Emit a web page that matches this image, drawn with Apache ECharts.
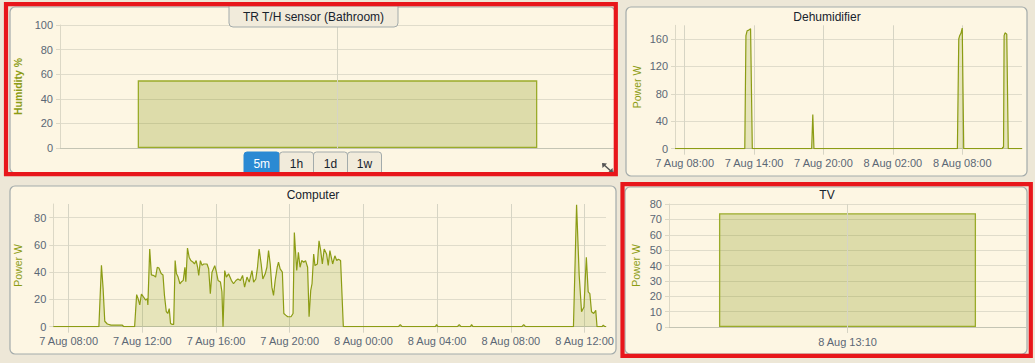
<!DOCTYPE html>
<html><head><meta charset="utf-8">
<script src="https://cdn.jsdelivr.net/npm/echarts@6/dist/echarts.min.js"></script>
<style>html,body{margin:0;padding:0;background:#ede7d7;}#c{width:1035px;height:363px;}</style>
</head><body><div id="c"></div>
<script>
// ---------- data ----------
const windowStart = 7 + 10 / 60;   // 7 Aug 07:10 (hours since 7 Aug 00:00)
const windowEnd = 37 + 10 / 60;    // 8 Aug 13:10
const dehumTickHours = [8, 14, 20, 26, 32];
const computerTickHours = [8, 12, 16, 20, 24, 28, 32, 36];

const humidityCategories = ['8 Aug 13:10'];
const humidityValues = [55];
const tvCategories = ['8 Aug 13:10'];
const tvValues = [74];

const dehumidifierPoints = [
  [7.17, 0], [13.2, 0], [13.3, 165], [13.4, 172], [13.55, 173], [13.7, 175], [13.85, 0],
  [18.98, 0], [19.08, 50], [19.18, 0],
  [31.58, 0], [31.7, 160], [31.78, 165], [31.88, 168], [32.0, 176], [32.13, 0],
  [35.45, 0], [35.5, 2], [35.57, 2], [35.62, 165], [35.7, 169], [35.85, 167], [35.98, 0],
  [37.17, 0]
];

const computerPoints = [
  [7.17, 0], [9.64, 0], [9.78, 45], [9.87, 28], [9.96, 4], [10.1, 2], [10.3, 1.2], [10.9, 1.2], [11.0, 0],
  [11.58, 0], [11.69, 23.5], [11.77, 20.6], [11.86, 16], [11.95, 24], [12.05, 22], [12.18, 19.5], [12.27, 20.6],
  [12.3, 16], [12.4, 57], [12.49, 38], [12.63, 37.5], [12.72, 36.4], [12.81, 43.6], [12.9, 43], [13.02, 39],
  [13.12, 38], [13.2, 23], [13.3, 11], [13.38, 9.7], [13.46, 13.3], [13.53, 2.4], [13.62, 1.7], [13.7, 1.7],
  [13.78, 48.5], [13.85, 39], [13.94, 36.4], [14.04, 31.5], [14.13, 33], [14.22, 34], [14.31, 43.6], [14.36, 33],
  [14.45, 57.7], [14.54, 51], [14.63, 48.5], [14.74, 47.5], [14.83, 46], [14.92, 48.5], [15.0, 43.6], [15.06, 37.6],
  [15.15, 48.5], [15.24, 45], [15.33, 46], [15.51, 46], [15.6, 42.5], [15.69, 24.2], [15.78, 40], [15.93, 44.8],
  [16.02, 40], [16.11, 33.9], [16.24, 32.7], [16.32, 25.5], [16.38, 0], [16.47, 41.2], [16.56, 36.4], [16.68, 38.8],
  [16.83, 34], [16.95, 31.5], [17.08, 33.9], [17.19, 35], [17.32, 33.9], [17.44, 37.6], [17.55, 29], [17.68, 36.4],
  [17.8, 32.7], [17.95, 41.2], [18.04, 32.7], [18.16, 35], [18.25, 43.6], [18.34, 57], [18.45, 46], [18.54, 35],
  [18.67, 38.8], [18.76, 43.6], [18.85, 55.8], [18.94, 46], [19.03, 29], [19.12, 23], [19.21, 33.9], [19.32, 43.6],
  [19.39, 47.3], [19.48, 42.4], [19.6, 40], [19.68, 9.7], [19.78, 8.5], [19.89, 7.3], [20.07, 7.3], [20.18, 9.7],
  [20.25, 69], [20.38, 41.2], [20.47, 54.5], [20.56, 43.6], [20.65, 48.5], [20.76, 47.3], [20.86, 48.5], [20.97, 43.6],
  [21.05, 7.3], [21.14, 26.7], [21.21, 31.5], [21.3, 53.3], [21.37, 44.8], [21.5, 46], [21.59, 63], [21.68, 55.8],
  [21.77, 46], [21.87, 57], [22.0, 53.3], [22.09, 45], [22.18, 55.8], [22.33, 46], [22.45, 52], [22.55, 48.5],
  [22.64, 49.5], [22.76, 48.5], [22.91, 0],
  [25.9, 0], [26.0, 1.5], [26.1, 0], [27.9, 0], [27.97, 1.5], [28.05, 0], [29.1, 0], [29.2, 1.5], [29.3, 0],
  [29.8, 0], [29.87, 1.5], [29.95, 0], [32.6, 0], [32.7, 1.5], [32.8, 0],
  [35.4, 0], [35.57, 89.5], [35.71, 38], [35.84, 11], [35.97, 14.5], [36.1, 51], [36.2, 25.5], [36.29, 24.3],
  [36.38, 11], [36.5, 9.7], [36.61, 12], [36.68, 0], [36.95, 0], [37.02, 1.2], [37.1, 0], [37.17, 0]
];

// ---------- styles ----------
const FONT = '"Liberation Sans", Arial, sans-serif';
const OLIVE = '#8c9c14';
const FILL = 'rgba(140,156,20,0.28)';
const HGRID = '#e0dccb';
const VGRID = '#d6d4c4';
const LABEL = '#5b6775';
const PANEL = '#fdf6e3';
const PANEL_STROKE = '#a3abab';
const RED = '#e8161b';

function timeLabel(v) {
  const d = 7 + Math.floor(v / 24);
  const h = Math.round(v % 24);
  return d + ' Aug ' + String(h).padStart(2, '0') + ':00';
}
function gridColors(max, interval) {
  const n = Math.floor(max / interval) + 1;
  const arr = new Array(n).fill(HGRID);
  if (max % interval) arr.push('rgba(0,0,0,0)');
  return arr;
}
function yAxis(gi, max, interval, name, gap, bold) {
  return {
    type: 'value', gridIndex: gi, min: 0, max: max, interval: interval,
    name: name, nameLocation: 'middle', nameGap: gap, nameRotate: 90,
    nameTextStyle: { color: OLIVE, fontSize: 10.5, fontWeight: bold ? 'bold' : 'normal', fontFamily: FONT },
    axisLine: { show: true, lineStyle: { color: '#dcd8c6' } },
    axisTick: { show: true, length: 4, lineStyle: { color: '#dcd8c6' } },
    axisLabel: { color: LABEL, fontSize: 11, fontFamily: FONT, margin: 7, showMaxLabel: !(max % interval) },
    splitLine: { show: true, lineStyle: { color: gridColors(max, interval) } }
  };
}
function timeAxis(gi, ticks) {
  return {
    type: 'value', gridIndex: gi, min: windowStart, max: windowEnd,
    axisLine: { show: true, onZero: false, lineStyle: { color: '#c4c4b4' } },
    axisTick: { show: true, length: 6, customValues: ticks, lineStyle: { color: VGRID } },
    axisLabel: { customValues: ticks, formatter: timeLabel, color: LABEL, fontSize: 11, fontFamily: FONT, margin: 9 },
    splitLine: { show: true, lineStyle: { color: VGRID } }
  };
}
function catAxis(gi, cats, showLabel) {
  return {
    type: 'category', gridIndex: gi, data: cats, boundaryGap: true,
    axisLine: { show: true, onZero: false, lineStyle: { color: '#c4c4b4' } },
    axisTick: { show: showLabel, alignWithLabel: true, length: 6, lineStyle: { color: VGRID } },
    axisLabel: { show: showLabel, color: LABEL, fontSize: 11, fontFamily: FONT, margin: 9 },
    splitLine: { show: false }
  };
}
function lineSeries(xi, pts) {
  return {
    type: 'line', xAxisIndex: xi, yAxisIndex: xi, data: pts, showSymbol: false, symbol: 'none',
    lineStyle: { color: OLIVE, width: 1.2 }, areaStyle: { color: FILL }, silent: true, z: 3
  };
}
function barSeries(xi, vals) {
  return {
    type: 'bar', xAxisIndex: xi, yAxisIndex: xi, data: vals, barWidth: '72%',
    itemStyle: { color: FILL, borderColor: '#9aab2a', borderWidth: 1.3 }, silent: true, z: 3,
    markLine: { silent: true, symbol: 'none', label: { show: false },
      lineStyle: { color: VGRID, type: 'solid', width: 1 }, data: [{ xAxis: 0 }] }
  };
}
function panel(x, y, w, h) {
  return { type: 'rect', z: -10, shape: { x: x, y: y, width: w, height: h, r: 5 },
    style: { fill: PANEL, stroke: PANEL_STROKE, lineWidth: 1.2 } };
}
function titleText(t, x, y) {
  return { type: 'text', z: 60, x: x, y: y,
    style: { text: t, fill: '#17222d', font: '12px ' + FONT, align: 'center', verticalAlign: 'middle' } };
}
function button(label, x, w, active) {
  return [
    { type: 'rect', z: 55, shape: { x: x, y: 152, width: w, height: 23, r: [3, 3, 0, 0] },
      style: { fill: active ? '#2b8ad3' : '#f1ebdb', stroke: active ? '#2b8ad3' : PANEL_STROKE, lineWidth: 1 } },
    { type: 'text', z: 56, x: x + w / 2, y: 163.5,
      style: { text: label, fill: active ? '#ffffff' : '#17222d', font: '12px ' + FONT, align: 'center', verticalAlign: 'middle' } }
  ];
}

const graphics = [
  panel(10, 7, 605, 166),
  panel(626, 7, 401, 169),
  panel(10, 186, 606, 168),
  panel(625, 187, 402, 167),
  { type: 'rect', z: 55, shape: { x: 229, y: 6, width: 169, height: 21, r: [0, 0, 4, 4] },
    style: { fill: '#f1ebdb', stroke: PANEL_STROKE, lineWidth: 1 } },
  titleText('TR T/H sensor (Bathroom)', 313.5, 17),
  titleText('Dehumidifier', 827, 17),
  titleText('Computer', 313, 195),
  titleText('TV', 827, 195),
  ...button('5m', 244, 35.5, true),
  ...button('1h', 279.5, 34, false),
  ...button('1d', 313.5, 34, false),
  ...button('1w', 347.5, 34, false),
  { type: 'line', z: 56, shape: { x1: 603, y1: 164, x2: 612, y2: 172 }, style: { stroke: '#555', lineWidth: 1.5 } },
  { type: 'polygon', z: 56, shape: { points: [[602, 163], [607, 163.5], [602.5, 168]] }, style: { fill: '#555' } },
  { type: 'polygon', z: 56, shape: { points: [[613, 173], [608, 172.5], [612.5, 168]] }, style: { fill: '#555' } },
  { type: 'rect', z: 70, shape: { x: 6, y: 4.2, width: 609.8, height: 170 }, style: { fill: 'none', stroke: RED, lineWidth: 4.2 } },
  { type: 'rect', z: 70, shape: { x: 622.5, y: 184.2, width: 408.3, height: 171.6 }, style: { fill: 'none', stroke: RED, lineWidth: 4.2 } }
];

const chart = echarts.init(document.getElementById('c'), null, { renderer: 'svg' });
chart.setOption({
  backgroundColor: '#ede7d7',
  animation: false,
  textStyle: { fontFamily: FONT },
  graphic: { elements: graphics },
  grid: [
    { left: 60, top: 25, width: 555, height: 123 },
    { left: 675, top: 25.3, width: 347, height: 123.4 },
    { left: 53.3, top: 204, width: 552.7, height: 122.7 },
    { left: 669, top: 204, width: 357, height: 123 }
  ],
  xAxis: [
    catAxis(0, humidityCategories, false),
    timeAxis(1, dehumTickHours),
    timeAxis(2, computerTickHours),
    catAxis(3, tvCategories, true)
  ],
  yAxis: [
    yAxis(0, 100, 20, 'Humidity %', 34, true),
    yAxis(1, 180, 40, 'Power W', 33, false),
    yAxis(2, 90, 20, 'Power W', 28, false),
    yAxis(3, 80, 10, 'Power W', 28, false)
  ],
  series: [
    barSeries(0, humidityValues),
    lineSeries(1, dehumidifierPoints),
    lineSeries(2, computerPoints),
    barSeries(3, tvValues)
  ]
});
</script></body></html>
